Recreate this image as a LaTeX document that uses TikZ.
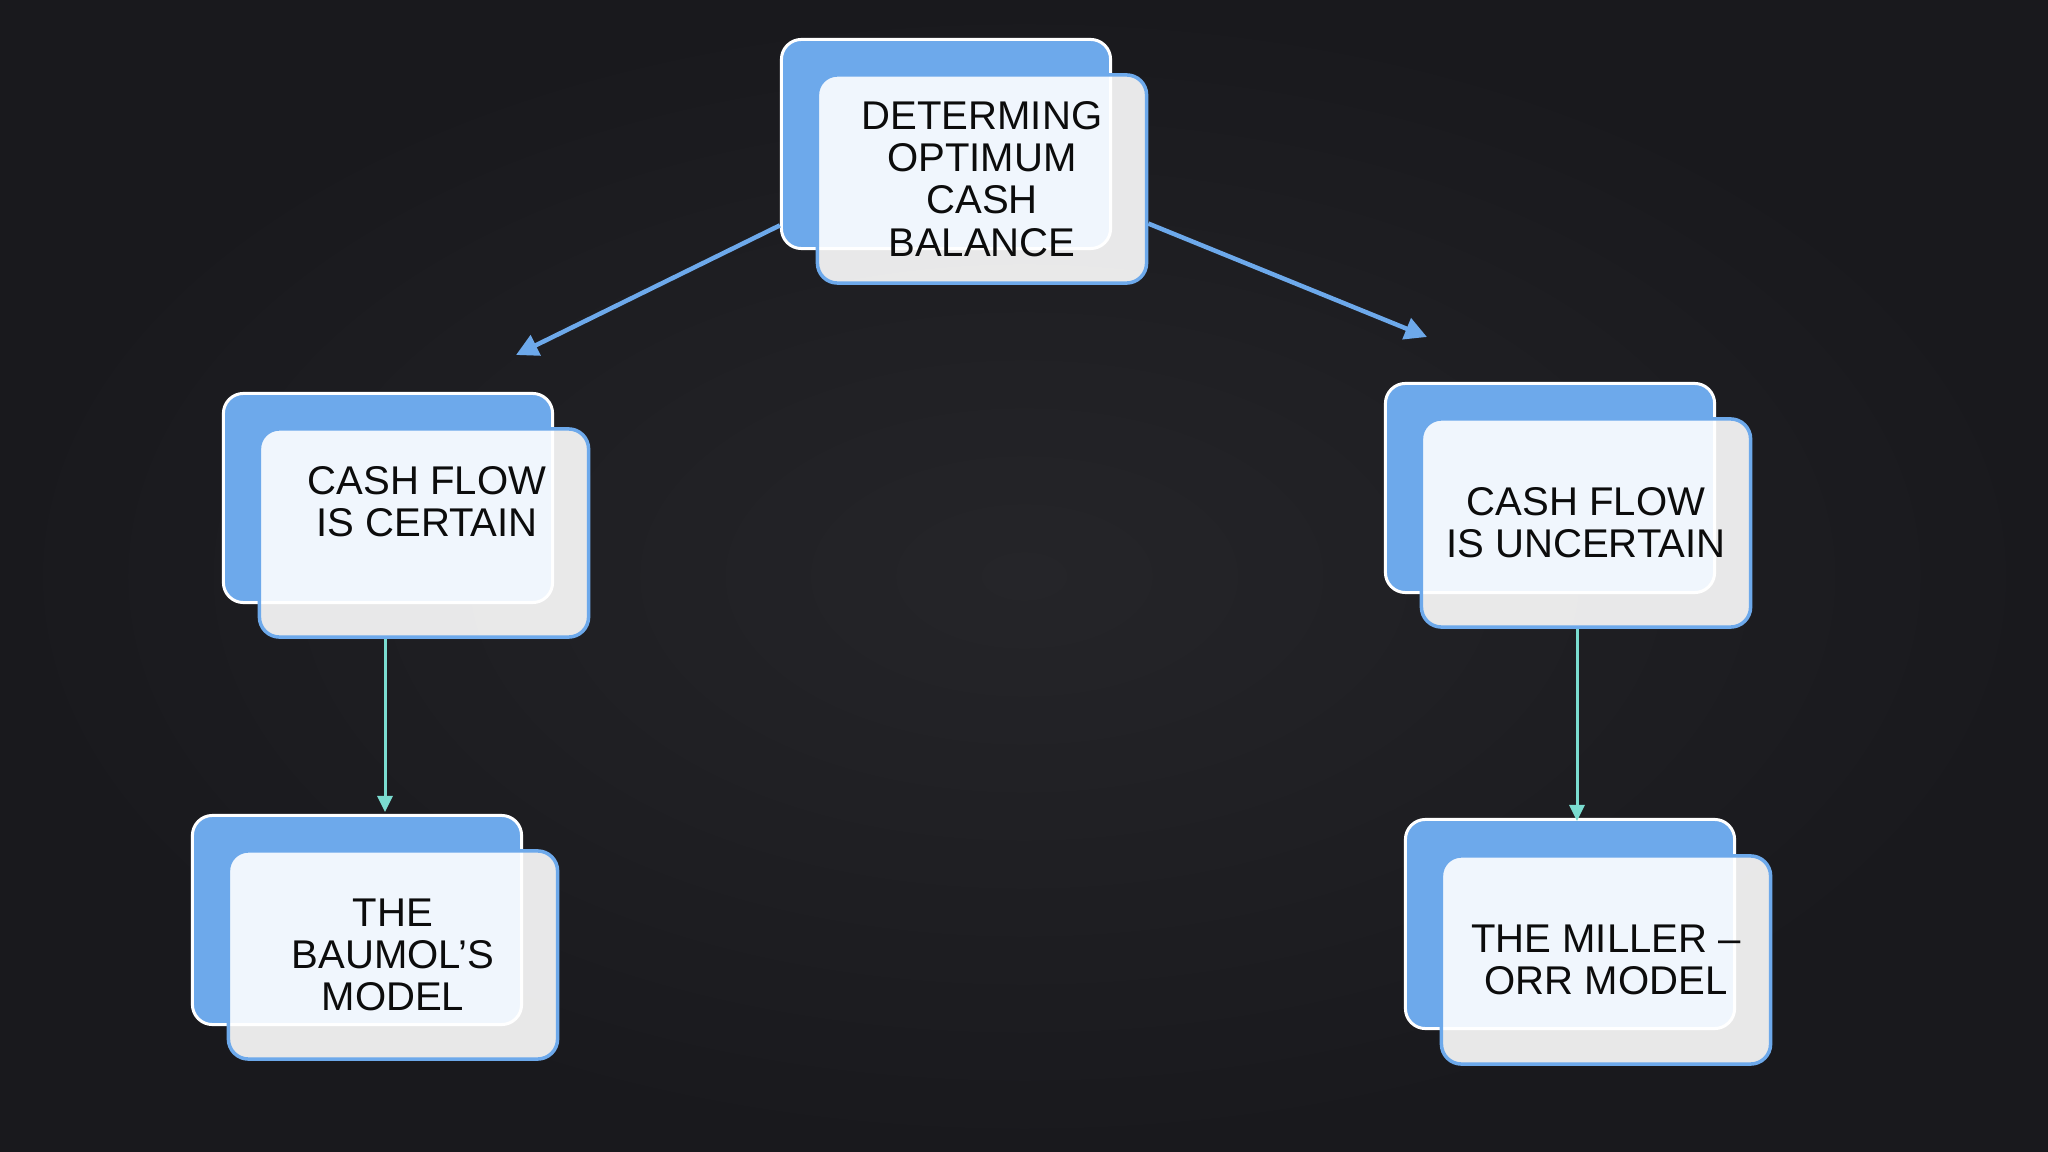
\documentclass[tikz,border=0pt]{standalone}
\usepackage{fontspec}
\setmainfont{Liberation Sans}
\usetikzlibrary{positioning, arrows.meta, calc}

\definecolor{slideblue}{RGB}{109,169,235}
\definecolor{slideteal}{RGB}{122,220,208}
\definecolor{bgdark}{RGB}{25,25,29}
\definecolor{bglight}{RGB}{37,37,41}
\definecolor{labelink}{RGB}{12,12,12}

\begin{document}
\begin{tikzpicture}[
    x=0.01cm, y=-0.01cm,
    backbox/.style={rectangle, draw=white, fill=slideblue, line width=0.03cm, rounded corners=0.2cm, minimum width=3.29cm, minimum height=2.09cm},
    frontbox/.style={rectangle, draw=slideblue, fill=white, fill opacity=0.9, line width=0.035cm, rounded corners=0.2cm, minimum width=3.29cm, minimum height=2.08cm},
    boxlabel/.style={align=center, text=labelink, font=\fontsize{11.4pt}{12pt}\selectfont, inner sep=0pt},
    bluearrow/.style={-{Triangle[length=0.22cm, width=0.22cm]}, draw=slideblue, line width=0.045cm},
    tealarrow/.style={-{Triangle[length=0.16cm, width=0.15cm]}, draw=slideteal, line width=0.03cm},
]

% slide background
\useasboundingbox (0,0) rectangle (2048,1152);
\shade[inner color=bglight, outer color=bgdark] (0,0) rectangle (2048,1152);

% top box
\node[backbox] (optback) at (946,144) {};
\node[frontbox] (optfront) at ($(optback)+(36,35)$) {};
\node[boxlabel] (opttxt) at (optfront) {DETERMING\\OPTIMUM\\CASH\\BALANCE};

% middle row
\node[backbox] (certback) at (388,498) {};
\node[frontbox] (certfront) at ($(certback)+(36,35)$) {};
\node[boxlabel] (certtxt) at ($(certfront)+(3,-31)$) {CASH FLOW\\IS CERTAIN};

\node[backbox] (uncback) at (1550,488) {};
\node[frontbox] (uncfront) at ($(uncback)+(36,35)$) {};
\node[boxlabel] (unctxt) at (uncfront) {CASH FLOW\\IS UNCERTAIN};

% bottom row
\node[backbox] (baumback) at (357,920) {};
\node[frontbox] (baumfront) at ($(baumback)+(36,35)$) {};
\node[boxlabel] (baumtxt) at (baumfront) {THE\\BAUMOL’S\\MODEL};

\node[backbox] (millback) at (1570,924) {};
\node[frontbox] (millfront) at ($(millback)+(36,36)$) {};
\node[boxlabel] (milltxt) at (millfront) {THE MILLER –\\ORR MODEL};

% arrow tips
\coordinate (tipl) at (516,355);
\coordinate (tipr) at (1427,337);
\coordinate (tipcert) at (385,812);
\coordinate (tipunc) at (1577,821);

\draw[bluearrow] (optback) -- (tipl);
\draw[bluearrow] (optfront.345) -- (tipr);
\draw[tealarrow] (tipcert |- certfront.south) -- (tipcert);
\draw[tealarrow] (tipunc |- uncfront.south) -- (tipunc);

\end{tikzpicture}
\end{document}
